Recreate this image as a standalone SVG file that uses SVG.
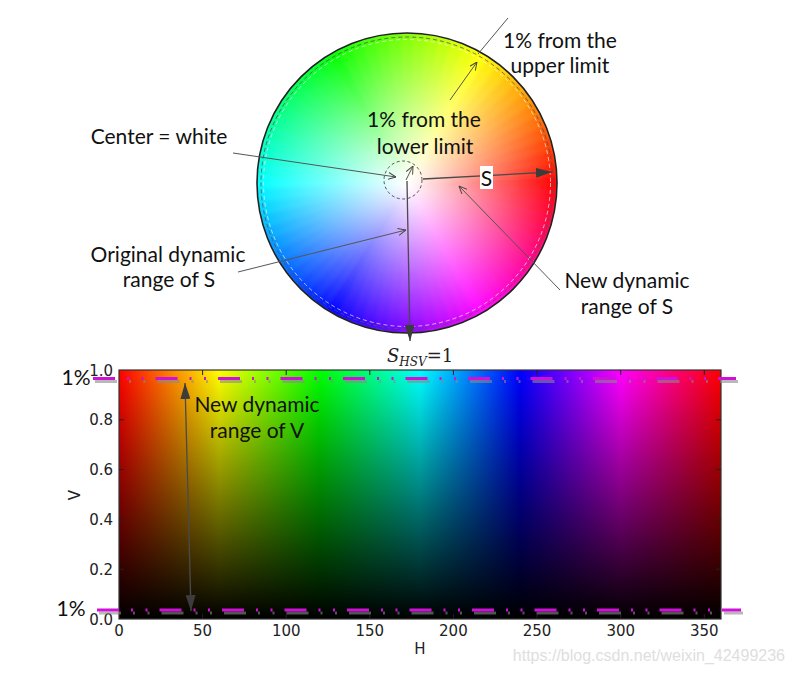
<svg xmlns="http://www.w3.org/2000/svg" xmlns:xlink="http://www.w3.org/1999/xlink" width="794" height="674" viewBox="0 0 794 674">
<style>
.lbl{font-family:Lato,"Liberation Sans",sans-serif;font-size:21px;fill:#111;text-anchor:middle}
.tick{font-family:"DejaVu Sans",sans-serif;font-size:15px;fill:#222}
.thin{stroke:#555;stroke-width:1;fill:none}
.fat{stroke:#4a4a4a;stroke-width:1.3;fill:none}
.mg{stroke:#d010d8;stroke-width:3;fill:none;stroke-dasharray:22 12 2 12.5 2 12}
.sh{stroke:#8a8a8a;stroke-width:3;fill:none;opacity:.6;stroke-dasharray:22 12 2 12.5 2 12}
.tk{stroke:#222;stroke-width:1}
</style>
<defs>
<path id="w" d="M407,183 L558.85,176.1 A152,152 0 0,1 558.85,189.9 Z"/>
<clipPath id="disc"><circle cx="407" cy="183" r="150"/></clipPath>
<filter id="soft" x="-5%" y="-5%" width="110%" height="110%"><feGaussianBlur stdDeviation="2"/></filter>
<radialGradient id="wh" cx="407" cy="183" r="150" gradientUnits="userSpaceOnUse">
<stop offset="0" stop-color="#fff" stop-opacity="1"/>
<stop offset="1" stop-color="#fff" stop-opacity="0"/>
</radialGradient>
<linearGradient id="hue" x1="0" y1="0" x2="1" y2="0">
<stop offset="0" stop-color="#f00"/>
<stop offset="0.1667" stop-color="#ff0"/>
<stop offset="0.3333" stop-color="#0f0"/>
<stop offset="0.5" stop-color="#0ff"/>
<stop offset="0.6667" stop-color="#00f"/>
<stop offset="0.8333" stop-color="#f0f"/>
<stop offset="1" stop-color="#f00"/>
</linearGradient>
<linearGradient id="val" x1="0" y1="0" x2="0" y2="1">
<stop offset="0" stop-color="#000" stop-opacity="0"/>
<stop offset="1" stop-color="#000" stop-opacity="1"/>
</linearGradient>
<marker id="open" viewBox="0 0 10 10" refX="10" refY="5" markerWidth="8" markerHeight="8" orient="auto" markerUnits="userSpaceOnUse">
<path d="M0,0.5 L10,5 L0,9.5" fill="none" stroke="#444" stroke-width="1.2"/>
</marker>
<marker id="fill" viewBox="0 0 16 10" refX="16" refY="5" markerWidth="16" markerHeight="10" orient="auto-start-reverse" markerUnits="userSpaceOnUse">
<path d="M0,0 L16,5 L0,10 Z" fill="#3c3c3c"/>
</marker>
</defs>
<rect width="794" height="674" fill="#fff"/>

<g id="wheel">
<g clip-path="url(#disc)">
<g filter="url(#soft)">
<use xlink:href="#w" fill="rgb(255,0,0)" transform="rotate(0 407 183)"/>
<use xlink:href="#w" fill="rgb(255,21,0)" transform="rotate(-5 407 183)"/>
<use xlink:href="#w" fill="rgb(255,43,0)" transform="rotate(-10 407 183)"/>
<use xlink:href="#w" fill="rgb(255,64,0)" transform="rotate(-15 407 183)"/>
<use xlink:href="#w" fill="rgb(255,85,0)" transform="rotate(-20 407 183)"/>
<use xlink:href="#w" fill="rgb(255,106,0)" transform="rotate(-25 407 183)"/>
<use xlink:href="#w" fill="rgb(255,128,0)" transform="rotate(-30 407 183)"/>
<use xlink:href="#w" fill="rgb(255,149,0)" transform="rotate(-35 407 183)"/>
<use xlink:href="#w" fill="rgb(255,170,0)" transform="rotate(-40 407 183)"/>
<use xlink:href="#w" fill="rgb(255,191,0)" transform="rotate(-45 407 183)"/>
<use xlink:href="#w" fill="rgb(255,213,0)" transform="rotate(-50 407 183)"/>
<use xlink:href="#w" fill="rgb(255,234,0)" transform="rotate(-55 407 183)"/>
<use xlink:href="#w" fill="rgb(255,255,0)" transform="rotate(-60 407 183)"/>
<use xlink:href="#w" fill="rgb(234,255,0)" transform="rotate(-65 407 183)"/>
<use xlink:href="#w" fill="rgb(213,255,0)" transform="rotate(-70 407 183)"/>
<use xlink:href="#w" fill="rgb(191,255,0)" transform="rotate(-75 407 183)"/>
<use xlink:href="#w" fill="rgb(170,255,0)" transform="rotate(-80 407 183)"/>
<use xlink:href="#w" fill="rgb(149,255,0)" transform="rotate(-85 407 183)"/>
<use xlink:href="#w" fill="rgb(128,255,0)" transform="rotate(-90 407 183)"/>
<use xlink:href="#w" fill="rgb(106,255,0)" transform="rotate(-95 407 183)"/>
<use xlink:href="#w" fill="rgb(85,255,0)" transform="rotate(-100 407 183)"/>
<use xlink:href="#w" fill="rgb(64,255,0)" transform="rotate(-105 407 183)"/>
<use xlink:href="#w" fill="rgb(43,255,0)" transform="rotate(-110 407 183)"/>
<use xlink:href="#w" fill="rgb(21,255,0)" transform="rotate(-115 407 183)"/>
<use xlink:href="#w" fill="rgb(0,255,0)" transform="rotate(-120 407 183)"/>
<use xlink:href="#w" fill="rgb(0,255,21)" transform="rotate(-125 407 183)"/>
<use xlink:href="#w" fill="rgb(0,255,43)" transform="rotate(-130 407 183)"/>
<use xlink:href="#w" fill="rgb(0,255,64)" transform="rotate(-135 407 183)"/>
<use xlink:href="#w" fill="rgb(0,255,85)" transform="rotate(-140 407 183)"/>
<use xlink:href="#w" fill="rgb(0,255,106)" transform="rotate(-145 407 183)"/>
<use xlink:href="#w" fill="rgb(0,255,128)" transform="rotate(-150 407 183)"/>
<use xlink:href="#w" fill="rgb(0,255,149)" transform="rotate(-155 407 183)"/>
<use xlink:href="#w" fill="rgb(0,255,170)" transform="rotate(-160 407 183)"/>
<use xlink:href="#w" fill="rgb(0,255,191)" transform="rotate(-165 407 183)"/>
<use xlink:href="#w" fill="rgb(0,255,213)" transform="rotate(-170 407 183)"/>
<use xlink:href="#w" fill="rgb(0,255,234)" transform="rotate(-175 407 183)"/>
<use xlink:href="#w" fill="rgb(0,255,255)" transform="rotate(-180 407 183)"/>
<use xlink:href="#w" fill="rgb(0,234,255)" transform="rotate(-185 407 183)"/>
<use xlink:href="#w" fill="rgb(0,213,255)" transform="rotate(-190 407 183)"/>
<use xlink:href="#w" fill="rgb(0,191,255)" transform="rotate(-195 407 183)"/>
<use xlink:href="#w" fill="rgb(0,170,255)" transform="rotate(-200 407 183)"/>
<use xlink:href="#w" fill="rgb(0,149,255)" transform="rotate(-205 407 183)"/>
<use xlink:href="#w" fill="rgb(0,128,255)" transform="rotate(-210 407 183)"/>
<use xlink:href="#w" fill="rgb(0,106,255)" transform="rotate(-215 407 183)"/>
<use xlink:href="#w" fill="rgb(0,85,255)" transform="rotate(-220 407 183)"/>
<use xlink:href="#w" fill="rgb(0,64,255)" transform="rotate(-225 407 183)"/>
<use xlink:href="#w" fill="rgb(0,43,255)" transform="rotate(-230 407 183)"/>
<use xlink:href="#w" fill="rgb(0,21,255)" transform="rotate(-235 407 183)"/>
<use xlink:href="#w" fill="rgb(0,0,255)" transform="rotate(-240 407 183)"/>
<use xlink:href="#w" fill="rgb(21,0,255)" transform="rotate(-245 407 183)"/>
<use xlink:href="#w" fill="rgb(43,0,255)" transform="rotate(-250 407 183)"/>
<use xlink:href="#w" fill="rgb(64,0,255)" transform="rotate(-255 407 183)"/>
<use xlink:href="#w" fill="rgb(85,0,255)" transform="rotate(-260 407 183)"/>
<use xlink:href="#w" fill="rgb(106,0,255)" transform="rotate(-265 407 183)"/>
<use xlink:href="#w" fill="rgb(128,0,255)" transform="rotate(-270 407 183)"/>
<use xlink:href="#w" fill="rgb(149,0,255)" transform="rotate(-275 407 183)"/>
<use xlink:href="#w" fill="rgb(170,0,255)" transform="rotate(-280 407 183)"/>
<use xlink:href="#w" fill="rgb(191,0,255)" transform="rotate(-285 407 183)"/>
<use xlink:href="#w" fill="rgb(213,0,255)" transform="rotate(-290 407 183)"/>
<use xlink:href="#w" fill="rgb(234,0,255)" transform="rotate(-295 407 183)"/>
<use xlink:href="#w" fill="rgb(255,0,255)" transform="rotate(-300 407 183)"/>
<use xlink:href="#w" fill="rgb(255,0,234)" transform="rotate(-305 407 183)"/>
<use xlink:href="#w" fill="rgb(255,0,213)" transform="rotate(-310 407 183)"/>
<use xlink:href="#w" fill="rgb(255,0,191)" transform="rotate(-315 407 183)"/>
<use xlink:href="#w" fill="rgb(255,0,170)" transform="rotate(-320 407 183)"/>
<use xlink:href="#w" fill="rgb(255,0,149)" transform="rotate(-325 407 183)"/>
<use xlink:href="#w" fill="rgb(255,0,128)" transform="rotate(-330 407 183)"/>
<use xlink:href="#w" fill="rgb(255,0,106)" transform="rotate(-335 407 183)"/>
<use xlink:href="#w" fill="rgb(255,0,85)" transform="rotate(-340 407 183)"/>
<use xlink:href="#w" fill="rgb(255,0,64)" transform="rotate(-345 407 183)"/>
<use xlink:href="#w" fill="rgb(255,0,43)" transform="rotate(-350 407 183)"/>
<use xlink:href="#w" fill="rgb(255,0,21)" transform="rotate(-355 407 183)"/>
</g>
</g>
<circle cx="407" cy="183" r="150" fill="url(#wh)"/>
<circle cx="407" cy="183" r="150" fill="none" stroke="#222" stroke-width="1.6"/>
<circle cx="407" cy="183" r="146" fill="none" stroke="#555" stroke-width="0.8" stroke-dasharray="4 3"/>
<circle cx="407" cy="183" r="143.5" fill="none" stroke="#fff" stroke-width="0.8" stroke-dasharray="4 3" opacity="0.8"/>
<circle cx="403" cy="180" r="19" fill="none" stroke="#555" stroke-width="1" stroke-dasharray="3 2.5"/>
</g>

<g id="plot">
<rect x="119" y="370" width="602" height="249" fill="url(#hue)"/>
<rect x="119" y="370" width="602" height="249" fill="url(#val)"/>
<rect x="119" y="370" width="602" height="249" fill="none" stroke="#333" stroke-width="1.2"/>
<g id="ticks">
<path class="tk" d="M202.6,619v-5M286.2,619v-5M369.8,619v-5M453.4,619v-5M537.1,619v-5M620.7,619v-5M704.3,619v-5M202.6,370v5M286.2,370v5M369.8,370v5M453.4,370v5M537.1,370v5M620.7,370v5M704.3,370v5M119,569.2h5M119,519.4h5M119,469.6h5M119,419.8h5M721,569.2h-5M721,519.4h-5M721,469.6h-5M721,419.8h-5"/>
</g>
<g class="tick" text-anchor="end">
<text x="113" y="375.5">1.0</text>
<text x="113" y="425.3">0.8</text>
<text x="113" y="475">0.6</text>
<text x="113" y="525">0.4</text>
<text x="113" y="574.7">0.2</text>
<text x="113" y="624.5">0.0</text>
</g>
<g class="tick" text-anchor="middle">
<text x="119" y="636">0</text>
<text x="202.6" y="636">50</text>
<text x="286.2" y="636">100</text>
<text x="369.8" y="636">150</text>
<text x="453.4" y="636">200</text>
<text x="537.1" y="636">250</text>
<text x="620.7" y="636">300</text>
<text x="704.3" y="636">350</text>
<text x="420" y="654">H</text>
<text transform="translate(80,495) rotate(-90)">V</text>
</g>
</g>

<g id="limits">
<line class="sh" x1="95" y1="381.5" x2="738" y2="381.5"/>
<line class="mg" x1="93" y1="378.5" x2="736" y2="378.5"/>
<line class="sh" x1="99" y1="613" x2="743" y2="613"/>
<line class="mg" x1="97" y1="610" x2="741" y2="610"/>
</g>

<g id="connectors">
<line class="thin" x1="233" y1="153" x2="396" y2="177" marker-end="url(#open)"/>
<line class="thin" x1="406" y1="180" x2="413" y2="166" marker-end="url(#open)"/>
<line class="thin" x1="450" y1="100" x2="477" y2="62" marker-end="url(#open)"/>
<line class="thin" x1="508" y1="18" x2="478" y2="54"/>
<line class="thin" x1="238" y1="272" x2="406" y2="230" marker-end="url(#open)"/>
<line class="thin" x1="560" y1="290" x2="459" y2="186" marker-end="url(#open)"/>
<line class="fat" x1="423" y1="179" x2="552" y2="172" marker-end="url(#fill)"/>
<line class="fat" x1="407" y1="181" x2="410" y2="341" marker-end="url(#fill)"/>
<line class="fat" x1="185" y1="383" x2="191" y2="611" marker-start="url(#fill)" marker-end="url(#fill)"/>
</g>

<g id="labels">
<text class="lbl" x="560" y="48">1% from the</text>
<text class="lbl" x="560" y="73">upper limit</text>
<text class="lbl" x="424" y="127">1% from the</text>
<text class="lbl" x="425" y="154">lower limit</text>
<text class="lbl" x="159" y="144">Center = white</text>
<text class="lbl" x="168" y="262">Original dynamic</text>
<text class="lbl" x="169" y="287">range of S</text>
<text class="lbl" x="627" y="288">New dynamic</text>
<text class="lbl" x="627" y="314">range of S</text>
<text class="lbl" x="257" y="412">New dynamic</text>
<text class="lbl" x="257" y="438">range of V</text>
<rect x="480" y="166" width="13" height="23" fill="#fff"/>
<text class="lbl" x="486.5" y="186">S</text>
<text class="lbl" x="76" y="385">1%</text>
<text class="lbl" x="71" y="616">1%</text>
<text x="387" y="362" font-family="DejaVu Serif,serif" font-size="18" fill="#222"><tspan font-style="italic">S</tspan><tspan font-style="italic" font-size="12" dy="4">HSV</tspan><tspan dy="-4">=1</tspan></text>
</g>
<text x="785" y="661" text-anchor="end" font-family="Liberation Sans,Arial,sans-serif" font-size="16" fill="#dedede">https://blog.csdn.net/weixin_42499236</text>
</svg>
